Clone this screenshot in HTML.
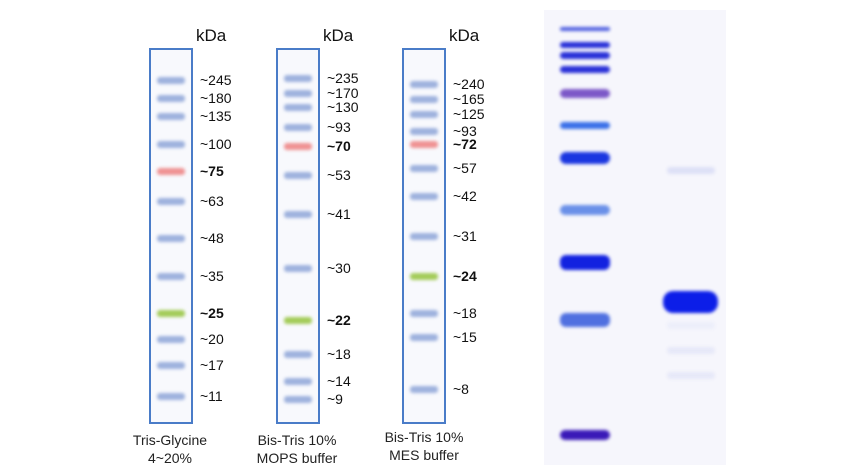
<!DOCTYPE html>
<html><head><meta charset="utf-8"><style>
body{margin:0;width:860px;height:472px;background:#fff;position:relative;overflow:hidden;font-family:"Liberation Sans",sans-serif;color:#111}
.box{position:absolute;top:48px;width:40px;height:372px;border:2px solid #4a7cc8;background:#f8f9fd}
.b{position:absolute;height:7px;border-radius:3px;filter:blur(1.6px);opacity:.85}
.l{position:absolute;font-size:14px;line-height:14px}
.k{position:absolute;top:26px;font-size:17px}
.c{position:absolute;font-size:14px;text-align:center;width:120px;line-height:18px;color:#222}
.g{position:absolute;filter:blur(1.5px);border-radius:6px}
</style></head><body>
<div style="position:absolute;left:544px;top:10px;width:182px;height:455px;background:#f6f6fc"></div>
<div id="r"></div>
<div class="c" style="left:110px;top:431px">Tris-Glycine<br>4~20%</div>
<div class="c" style="left:237px;top:431px">Bis-Tris 10%<br>MOPS buffer</div>
<div class="c" style="left:364px;top:428px">Bis-Tris 10%<br>MES buffer</div>
<script>
var r=document.getElementById('r'),h='';
var lanes=[[149,[[245,80],[180,98],[135,116],[100,144],[75,171,'r'],[63,201],[48,238],[35,276],[25,313,'g'],[20,339],[17,365],[11,396]]],
[276,[[235,78],[170,93],[130,107],[93,127],[70,146,'r'],[53,175],[41,214],[30,268],[22,320,'g'],[18,354],[14,381],[9,399]]],
[402,[[240,84],[165,99],[125,114],[93,131],[72,144,'r'],[57,168],[42,196],[31,236],[24,276,'g'],[18,313],[15,337],[8,389]]]];
lanes.forEach(function(L){var x=L[0];
h+='<div class="box" style="left:'+x+'px"></div>';
h+='<div class="k" style="left:'+(x+47)+'px">kDa</div>';
L[1].forEach(function(b){var col=b[2]=='r'?'#ee8080':b[2]=='g'?'#95c43c':'#8ea5d8';
h+='<div class="b" style="left:'+(x+8)+'px;width:28px;top:'+(b[1]-3)+'px;background:'+col+'"></div>';
h+='<div class="l" style="left:'+(x+51)+'px;top:'+(b[1]-7)+'px;'+(b[2]?'font-weight:bold':'')+'">~'+b[0]+'</div>';});});
var g=[[29,4,'#5060e0'],[45,6,'#2830d8'],[55,7,'#2830d8'],[69,7,'#2a30d8'],[93,9,'#7c58c8'],[125,7,'#3a70e8'],[158,12,'#1a36e0'],[210,10,'#6a90e8'],[262,15,'#1222e0'],[320,14,'#5070e0'],[435,10,'#3a1ab8']];
g.forEach(function(b){h+='<div class="g" style="left:560px;width:50px;top:'+(b[0]-b[1]/2)+'px;height:'+b[1]+'px;background:'+b[2]+'"></div>';});
h+='<div class="g" style="left:663px;width:55px;top:291px;height:22px;background:#0c1ee8;border-radius:10px"></div>';
[[170,'#dde0f6'],[325,'#eceefa'],[350,'#e6e8f8'],[375,'#e6e8f8']].forEach(function(b){h+='<div class="g" style="left:667px;width:48px;top:'+(b[0]-3)+'px;height:7px;background:'+b[1]+'"></div>';});
r.innerHTML=h;
</script>
</body></html>
